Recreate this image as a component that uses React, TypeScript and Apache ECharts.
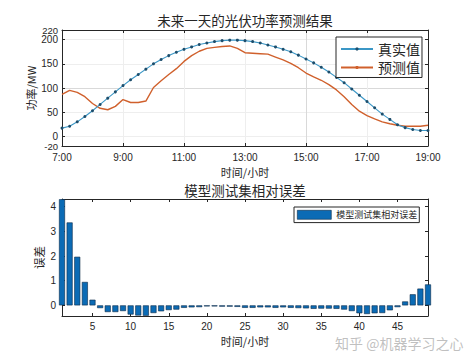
import React, { useEffect, useRef } from "react";
import * as echarts from "echarts";

// Top plot: power (MW) every 15 minutes from 7:00 to 19:00
const trueValues = [17, 21, 30, 41, 53, 66, 79, 92, 105, 117, 128, 139, 150, 159, 167, 174, 180, 185, 190, 193, 196, 198, 199, 199, 198, 196, 193, 189, 185, 180, 175, 168, 160, 152, 143, 133, 122, 111, 98, 85, 72, 59, 46, 35, 24, 18, 14, 12, 12];
const predValues = [87, 95, 91, 82, 68, 58, 55, 62, 76, 70, 70, 73, 101, 115, 128, 140, 155, 167, 176, 182, 184, 186, 187, 182, 173, 172, 171, 170, 164, 158, 151, 142, 131, 123, 116, 107, 96, 82, 66, 52, 43, 36, 30, 26, 23, 21, 21, 21, 23];
// Bottom plot: relative error per sample (1..49)
const errorValues = [4.3, 3.36, 1.97, 0.95, 0.23, -0.11, -0.27, -0.27, -0.23, -0.37, -0.41, -0.42, -0.31, -0.24, -0.19, -0.17, -0.1, -0.08, -0.07, -0.04, -0.04, -0.05, -0.05, -0.06, -0.1, -0.1, -0.08, -0.08, -0.1, -0.08, -0.1, -0.11, -0.12, -0.14, -0.13, -0.13, -0.14, -0.17, -0.23, -0.32, -0.35, -0.32, -0.31, -0.2, -0.07, 0.16, 0.45, 0.68, 0.85];

const timeTicks = [7, 9, 11, 13, 15, 17, 19];
const powerTicks = [0, 50, 100, 150, 200];
const powerEndTicks = [-20, 220];
const indexTicks = [5, 10, 15, 20, 25, 30, 35, 40, 45];
const errorTicks = [0, 1, 2, 3, 4];

const SANS = "'Liberation Sans', Arial, sans-serif";
const CJK = "'Noto Sans CJK SC', sans-serif";
const INK = "#262626";
const MAJ = "#d9d9d9";
const MIN = "#eeeeee";

export default function App() {
  const ref = useRef<HTMLDivElement>(null);
  useEffect(() => {
    const chart = echarts.init(ref.current!, null, { renderer: "svg" });
    const hours = trueValues.map((_, i) => 7 + i * 0.25);
    const trueData = trueValues.map((v, i) => [hours[i], v]);
    const predData = predValues.map((v, i) => [hours[i], v]);
    const errData = errorValues.map((v, i) => [i + 1, v]);

    const boxAxisLine = { show: true, onZero: false, lineStyle: { color: INK, width: 1 } };
    const label = { color: INK, fontSize: 10, fontFamily: SANS, showMinLabel: true, showMaxLabel: true, hideOverlap: false };
    const yLabel = { ...label, lineHeight: 9 };
    const nameStyle = { color: INK, fontSize: 11, fontFamily: CJK };

    const option: any = {
      animation: false,
      backgroundColor: "#fff",
      grid: [
        { left: 62, top: 30, width: 366, height: 116 },
        { left: 62, top: 199, width: 366, height: 117 },
      ],
      xAxis: [
        {
          gridIndex: 0, type: "value", min: 7, max: 19, interval: 0.5,
          axisLine: boxAxisLine,
          axisTick: { show: true, inside: true, length: 3, customValues: timeTicks, lineStyle: { color: INK } },
          axisLabel: { ...label, margin: 6, customValues: timeTicks, formatter: (v: number) => `${v}:00` },
          splitLine: { show: true, lineStyle: { color: [MAJ, MIN, MIN, MIN], width: 1 } },
        },
        {
          gridIndex: 0, type: "value", position: "top", min: 7, max: 19,
          axisLine: boxAxisLine,
          axisTick: { show: true, inside: true, length: 3, customValues: timeTicks, lineStyle: { color: INK } },
          axisLabel: { show: false },
          splitLine: { show: false },
        },
        {
          gridIndex: 1, type: "value", min: 1, max: 49, interval: 1,
          axisLine: boxAxisLine,
          axisTick: { show: true, inside: true, length: 3, customValues: indexTicks, lineStyle: { color: INK } },
          axisLabel: { ...label, margin: 5, customValues: indexTicks },
          splitLine: { show: false },
        },
        {
          gridIndex: 1, type: "value", position: "top", min: 1, max: 49,
          axisLine: boxAxisLine,
          axisTick: { show: true, inside: true, length: 3, customValues: indexTicks, lineStyle: { color: INK } },
          axisLabel: { show: false },
          splitLine: { show: false },
        },
      ],
      yAxis: [
        {
          gridIndex: 0, type: "value", min: -20, max: 220, interval: 10,
          name: "功率/MW", nameLocation: "middle", nameGap: 26, nameRotate: 90, nameMoveOverlap: false, nameTextStyle: nameStyle,
          axisLine: boxAxisLine,
          axisTick: { show: true, inside: true, length: 3, customValues: powerTicks, lineStyle: { color: INK } },
          axisLabel: { ...yLabel, margin: 4, customValues: powerTicks },
          splitLine: { show: true, lineStyle: { color: [MIN, MIN, MAJ, MIN, MIN], width: 1 } },
        },
        {
          gridIndex: 0, type: "value", position: "right", min: -20, max: 220,
          axisLine: boxAxisLine,
          axisTick: { show: true, inside: true, length: 3, customValues: powerTicks, lineStyle: { color: INK } },
          axisLabel: { show: false },
          splitLine: { show: false },
        },
        {
          gridIndex: 0, type: "value", position: "left", min: -20, max: 220,
          axisLine: { show: false },
          axisTick: { show: false },
          axisLabel: { ...yLabel, fontSize: 9.5, lineHeight: 8, margin: 4, customValues: powerEndTicks },
          splitLine: { show: false },
        },
        {
          gridIndex: 1, type: "value", min: -0.43, max: 4.31,
          name: "误差", nameLocation: "middle", nameGap: 17, nameRotate: 90, nameMoveOverlap: false, nameTextStyle: { ...nameStyle, fontSize: 11.5 },
          axisLine: boxAxisLine,
          axisTick: { show: true, inside: true, length: 3, customValues: errorTicks, lineStyle: { color: INK } },
          axisLabel: { ...yLabel, margin: 6, customValues: errorTicks },
          splitLine: { show: false },
        },
        {
          gridIndex: 1, type: "value", position: "right", min: -0.43, max: 4.31,
          axisLine: boxAxisLine,
          axisTick: { show: true, inside: true, length: 3, customValues: errorTicks, lineStyle: { color: INK } },
          axisLabel: { show: false },
          splitLine: { show: false },
        },
      ],
      legend: [
        {
          data: ["真实值", "预测值"],
          orient: "vertical",
          left: 336, top: 37,
          padding: [5, 2, 3, 4],
          itemGap: 4.5,
          itemWidth: 32, itemHeight: 4,
          backgroundColor: "#fff",
          borderColor: INK, borderWidth: 1, borderRadius: 0,
          textStyle: { color: INK, fontSize: 14, fontFamily: CJK },
        },
        {
          data: ["模型测试集相对误差"],
          left: 294, top: 207,
          padding: [3, 2, 3, 3],
          itemWidth: 34, itemHeight: 9,
          itemStyle: { borderColor: "#0b2a48", borderWidth: 0.6 },
          backgroundColor: "#fff",
          borderColor: INK, borderWidth: 1, borderRadius: 0,
          icon: "rect",
          textStyle: { color: INK, fontSize: 9, fontFamily: CJK },
        },
      ],
      series: [
        {
          name: "真实值", type: "line", xAxisIndex: 0, yAxisIndex: 0,
          data: trueData,
          symbol: "circle", symbolSize: 3, showSymbol: true,
          lineStyle: { color: "#3b97c6", width: 1.1 },
          itemStyle: { color: "#1d4d6b" },
          z: 3,
        },
        {
          name: "预测值", type: "line", xAxisIndex: 0, yAxisIndex: 0,
          data: predData,
          symbol: "none", smooth: false,
          lineStyle: { color: "#d0602c", width: 1.4 },
          itemStyle: { color: "#d0602c" },
          z: 2,
        },
        {
          name: "模型测试集相对误差", type: "bar", xAxisIndex: 2, yAxisIndex: 3,
          data: errData,
          barWidth: 6,
          clip: true,
          itemStyle: { color: "#0b6bb5", borderColor: "#0b2a48", borderWidth: 0.6 },
        },
      ],
      graphic: [
        { type: "text", x: 245, y: 20, style: { text: "未来一天的光伏功率预测结果", fill: INK, font: `13.5px ${CJK}`, align: "center", verticalAlign: "middle" } },
        { type: "text", x: 245, y: 172, style: { text: "时间/小时", fill: INK, font: `11px ${CJK}`, align: "center", verticalAlign: "middle" } },
        { type: "text", x: 245, y: 190, style: { text: "模型测试集相对误差", fill: INK, font: `13.5px ${CJK}`, align: "center", verticalAlign: "middle" } },
        { type: "text", x: 245, y: 341, style: { text: "时间/小时", fill: INK, font: `11px ${CJK}`, align: "center", verticalAlign: "middle" } },
        { type: "text", x: 335, y: 343, z: 100, style: { text: "知乎 @机器学习之心", fill: "rgba(150,150,150,0.6)", font: `14px ${CJK}`, align: "left", verticalAlign: "middle" } },
      ],
    };
    chart.setOption(option);
    return () => chart.dispose();
  }, []);
  return (
    <div
      ref={ref}
      style={{ position: "fixed", left: 0, top: 0, width: 474, height: 355, background: "#fff" }}
    />
  );
}
